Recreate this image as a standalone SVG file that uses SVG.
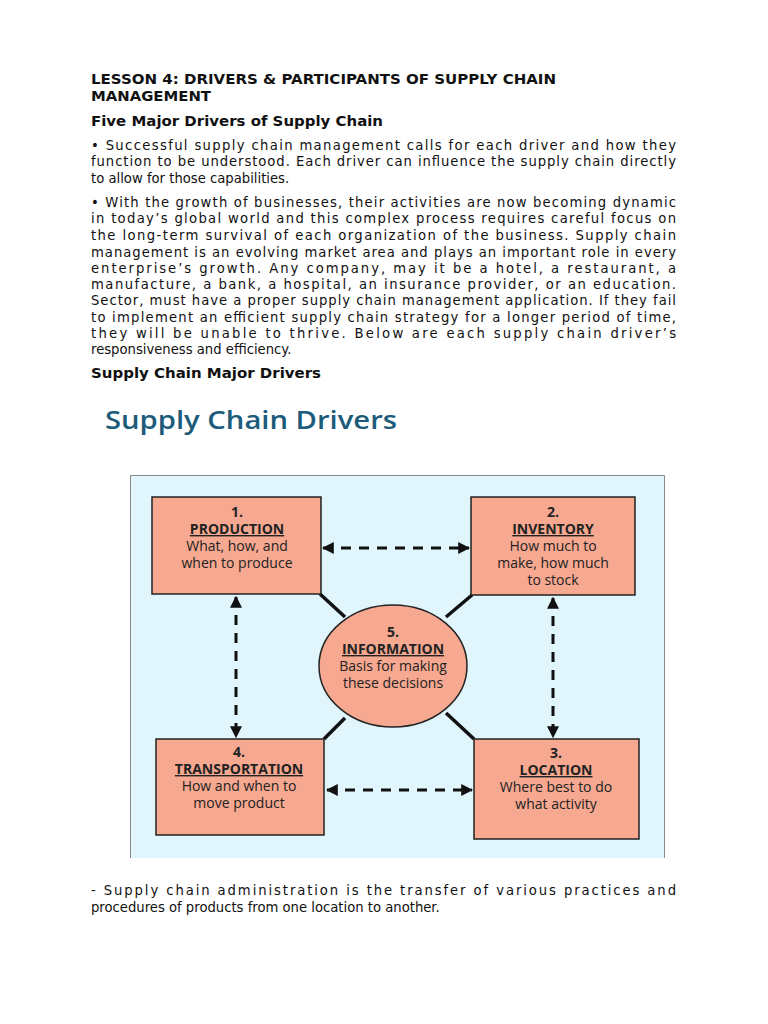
<svg xmlns="http://www.w3.org/2000/svg" width="768" height="1024" viewBox="0 0 768 1024">
<defs>
<style>
.b{font-family:"DejaVu Sans",sans-serif;font-size:13.2px;fill:#111}
.h{font-family:"DejaVu Sans",sans-serif;font-size:13.4px;font-weight:bold;fill:#111}
.n{fill:#f6a890;stroke:#222;stroke-width:1.5}
.t{font-family:"Open Sans","DejaVu Sans",sans-serif;font-size:14px;fill:#222;text-anchor:middle}
.u{font-weight:bold;text-decoration:underline}
.d{stroke:#111;stroke-width:3;stroke-dasharray:10 8;fill:none;marker-start:url(#a);marker-end:url(#a)}
.s{stroke:#111;stroke-width:3.5}
</style>
<marker id="a" viewBox="0 0 10 10" refX="9" refY="5" markerWidth="4" markerHeight="4" orient="auto-start-reverse"><path d="M0,0 L10,5 L0,10 z" fill="#111"/></marker>
</defs>
<rect width="768" height="1024" fill="#fff"/>
<text class="h" x="91" y="84" textLength="465" lengthAdjust="spacingAndGlyphs">LESSON 4: DRIVERS &amp; PARTICIPANTS OF SUPPLY CHAIN</text>
<text class="h" x="91" y="101" textLength="120" lengthAdjust="spacingAndGlyphs">MANAGEMENT</text>
<text class="h" x="91" y="126" textLength="292" lengthAdjust="spacingAndGlyphs">Five Major Drivers of Supply Chain</text>
<g class="b">
<text x="91" y="150" textLength="585" lengthAdjust="spacing">• Successful supply chain management calls for each driver and how they</text>
<text x="91" y="166" textLength="585" lengthAdjust="spacing">function to be understood. Each driver can influence the supply chain directly</text>
<text x="91" y="183">to allow for those capabilities.</text>
<text x="91" y="207" textLength="585" lengthAdjust="spacing">• With the growth of businesses, their activities are now becoming dynamic</text>
<text x="91" y="223" textLength="585" lengthAdjust="spacing">in today’s global world and this complex process requires careful focus on</text>
<text x="91" y="240" textLength="585" lengthAdjust="spacing">the long-term survival of each organization of the business. Supply chain</text>
<text x="91" y="257" textLength="585" lengthAdjust="spacing">management is an evolving market area and plays an important role in every</text>
<text x="91" y="273" textLength="585" lengthAdjust="spacing">enterprise’s growth. Any company, may it be a hotel, a restaurant, a</text>
<text x="91" y="289" textLength="585" lengthAdjust="spacing">manufacture, a bank, a hospital, an insurance provider, or an education.</text>
<text x="91" y="305" textLength="585" lengthAdjust="spacing">Sector, must have a proper supply chain management application. If they fail</text>
<text x="91" y="322" textLength="585" lengthAdjust="spacing">to implement an efficient supply chain strategy for a longer period of time,</text>
<text x="91" y="338" textLength="585" lengthAdjust="spacing">they will be unable to thrive. Below are each supply chain driver’s</text>
<text x="91" y="354">responsiveness and efficiency.</text>
<text x="91" y="895" textLength="585" lengthAdjust="spacing">- Supply chain administration is the transfer of various practices and</text>
<text x="91" y="912">procedures of products from one location to another.</text>
</g>
<text class="h" x="91" y="378" textLength="230" lengthAdjust="spacingAndGlyphs">Supply Chain Major Drivers</text>
<text x="105" y="429" font-family="'Open Sans','DejaVu Sans',sans-serif" font-size="25" font-weight="600" fill="#1d5b7a" textLength="292" lengthAdjust="spacingAndGlyphs">Supply Chain Drivers</text>
<rect x="130" y="475" width="535" height="383" fill="#e0f6fc"/>
<path d="M130.5,858 V475.5 H664.5 V858" fill="none" stroke="#888" stroke-width="1"/>
<g id="connectors">
<line class="s" x1="320" y1="594" x2="345" y2="617"/>
<line class="s" x1="472" y1="595" x2="446" y2="617"/>
<line class="s" x1="324" y1="739" x2="345" y2="718"/>
<line class="s" x1="474" y1="739" x2="446" y2="713"/>
<line class="d" x1="323" y1="548" x2="469" y2="548"/>
<line class="d" x1="236" y1="597" x2="236" y2="737"/>
<line class="d" x1="553" y1="598" x2="553" y2="737"/>
<line class="d" x1="327" y1="790" x2="472" y2="790"/>
</g>
<g id="production"><rect class="n" x="152" y="497" width="169" height="97"/>
<text class="t" x="237" y="517"><tspan font-weight="bold">1.</tspan><tspan x="237" dy="17" class="u">PRODUCTION</tspan><tspan x="237" dy="17">What, how, and</tspan><tspan x="237" dy="17">when to produce</tspan></text></g>
<g id="inventory"><rect class="n" x="471" y="497" width="164" height="98"/>
<text class="t" x="553" y="517"><tspan font-weight="bold">2.</tspan><tspan x="553" dy="17" class="u">INVENTORY</tspan><tspan x="553" dy="17">How much to</tspan><tspan x="553" dy="17">make, how much</tspan><tspan x="553" dy="17">to stock</tspan></text></g>
<g id="information"><ellipse class="n" cx="393" cy="666" rx="74" ry="61"/>
<text class="t" x="393" y="637"><tspan font-weight="bold">5.</tspan><tspan x="393" dy="17" class="u">INFORMATION</tspan><tspan x="393" dy="17">Basis for making</tspan><tspan x="393" dy="17">these decisions</tspan></text></g>
<g id="transportation"><rect class="n" x="156" y="739" width="168" height="96"/>
<text class="t" x="239" y="757"><tspan font-weight="bold">4.</tspan><tspan x="239" dy="17" class="u">TRANSPORTATION</tspan><tspan x="239" dy="17">How and when to</tspan><tspan x="239" dy="17">move product</tspan></text></g>
<g id="location"><rect class="n" x="474" y="739" width="165" height="100"/>
<text class="t" x="556" y="758"><tspan font-weight="bold">3.</tspan><tspan x="556" dy="17" class="u">LOCATION</tspan><tspan x="556" dy="17">Where best to do</tspan><tspan x="556" dy="17">what activity</tspan></text></g>
</svg>
